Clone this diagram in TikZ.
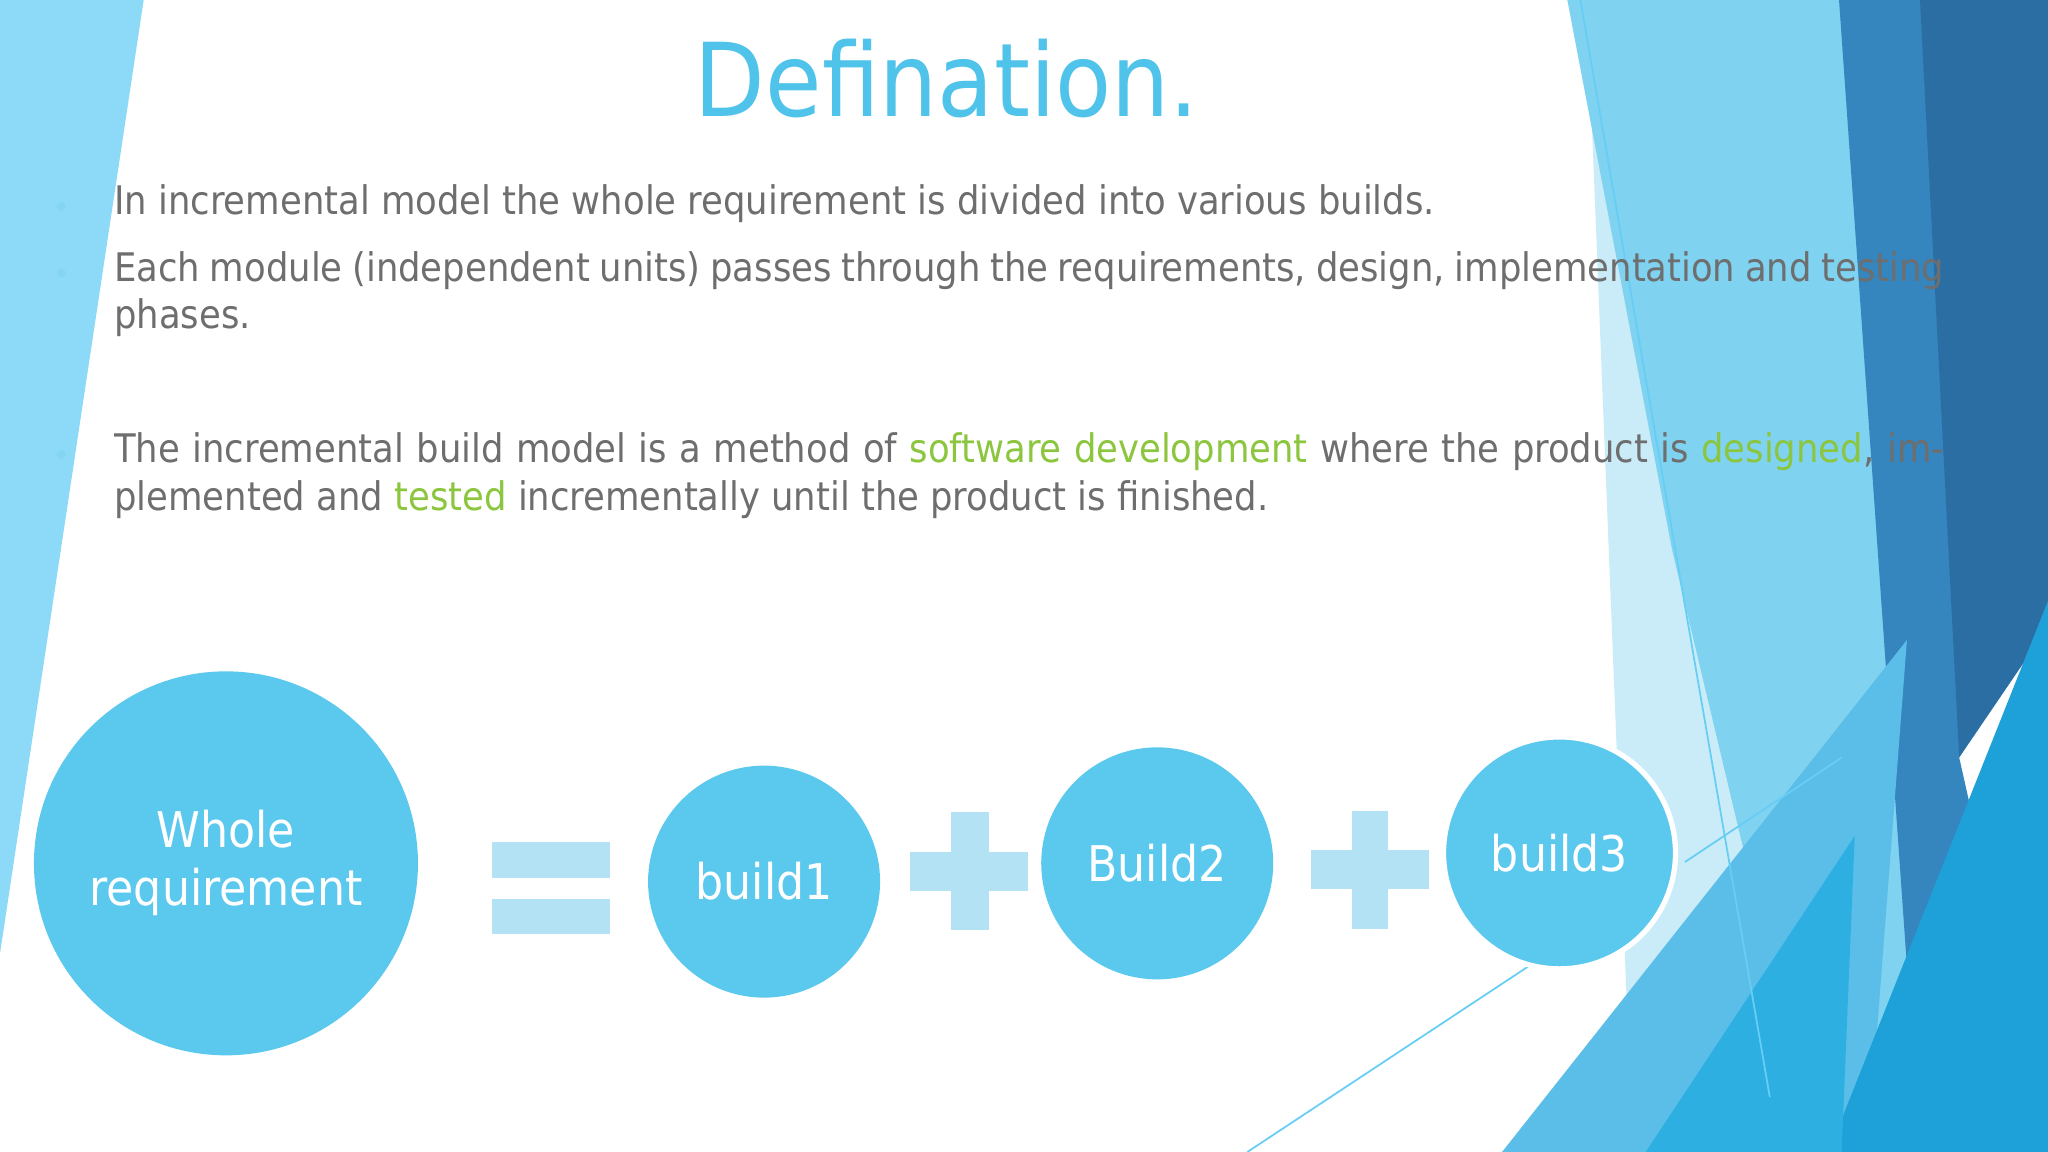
\documentclass[tikz,border=0pt]{standalone}
\usepackage{fontspec}
\setmainfont{DejaVu Sans}
\newfontfamily\condf{DejaVu Sans Condensed}
\definecolor{tgrey}{HTML}{6E6E6E}
\definecolor{tgreen}{HTML}{8CC63F}
\definecolor{tblue}{HTML}{4FC3EA}
\definecolor{cfill}{HTML}{5BC8EE}
\definecolor{lbar}{HTML}{B3E2F4}
\definecolor{dA}{RGB}{201,236,248}
\definecolor{dB}{RGB}{127,210,240}
\definecolor{dC}{RGB}{53,133,191}
\definecolor{dD}{RGB}{43,110,163}
\definecolor{dE}{RGB}{91,190,232}
\definecolor{dF}{RGB}{30,160,216}
\definecolor{dG}{RGB}{45,175,225}
\begin{document}
\begin{tikzpicture}[x=0.013061cm,y=-0.013061cm,
  bodytxt/.style={anchor=north west,text width=18.3cm,align=justify,text=tgrey,font=\condf\fontsize{11.2}{13.4}\selectfont,inner sep=0pt},
  dot/.style={circle,fill=tblue!70,inner sep=0pt,minimum size=2.5pt}]
\useasboundingbox (0,0) rectangle (1568,882);
\fill[white] (0,0) rectangle (1568,882);
\fill[cyan!45!white] (0,0) -- (110,0) -- (0,730) -- cycle;
\fill[dA] (1215,0) -- (1420,0) -- (1440,882) -- (1250,882) -- cycle;
\fill[dB] (1200,0) -- (1420,0) -- (1500,580) -- (1420,882) -- (1390,882) -- (1280,420) -- cycle;
\fill[dC] (1408,0) -- (1540,0) -- (1500,580) -- (1568,882) -- (1470,882) -- cycle;
\fill[dD] (1470,0) -- (1568,0) -- (1568,480) -- (1500,580) -- cycle;
\fill[dE] (1150,882) -- (1460,490) -- (1430,882) -- cycle;
\fill[dF] (1400,882) -- (1568,460) -- (1568,882) -- cycle;
\fill[dG] (1260,882) -- (1420,640) -- (1410,882) -- cycle;
\draw[cyan!60,line width=0.5pt] (1210,0) -- (1355,840);
\draw[cyan!60,line width=0.5pt] (955,882) -- (1170,740);
\draw[cyan!60,line width=0.5pt] (1290,660) -- (1410,580);
\node[text=tblue,font=\condf\fontsize{29}{32}\selectfont] (title) at (725,60) {Defination.};
\node[dot] (d1) at (47,158) {};
\node[dot] (d2) at (47,209) {};
\node[dot] (d3) at (47,348) {};
\node[bodytxt] (t1) at (87,141) {In incremental model the whole requirement is divided into various builds.};
\node[bodytxt] (t2) at (87,192) {Each module (independent units) passes through the requirements, design, implementation and testing phases.};
\node[bodytxt] (t3) at (87,331) {The incremental build model is a method of \textcolor{tgreen}{software development} where the product is \textcolor{tgreen}{designed}, implemented and \textcolor{tgreen}{tested} incrementally until the product is finished.};
\node[circle,fill=cfill,minimum size=3.84cm,inner sep=0pt] (whole) at (173,661) {};
\node[text=white,font=\condf\fontsize{14}{16.5}\selectfont,align=center] (wt) at (173,661) {Whole\\requirement};
\node[circle,fill=cfill,minimum size=2.32cm,inner sep=0pt] (b1) at (585,675) {};
\node[text=white,font=\condf\fontsize{14}{16}\selectfont] (b1t) at (585,675) {build1};
\node[circle,fill=cfill,minimum size=2.32cm,inner sep=0pt] (b2) at (886,661) {};
\node[text=white,font=\condf\fontsize{14}{16}\selectfont] (b2t) at (886,661) {Build2};
\node[circle,fill=cfill,draw=white,line width=1.5pt,minimum size=2.32cm,inner sep=0pt] (b3) at (1194,653) {};
\node[text=white,font=\condf\fontsize{14}{16}\selectfont] (b3t) at (1194,653) {build3};
\fill[lbar] (377,645) rectangle (467,672);
\fill[lbar] (377,688) rectangle (467,715);
\fill[lbar] (728,622) rectangle (757,712);
\fill[lbar] (697,652) rectangle (787,682);
\fill[lbar] (1035,621) rectangle (1063,711);
\fill[lbar] (1004,651) rectangle (1094,681);
\end{tikzpicture}
\end{document}
